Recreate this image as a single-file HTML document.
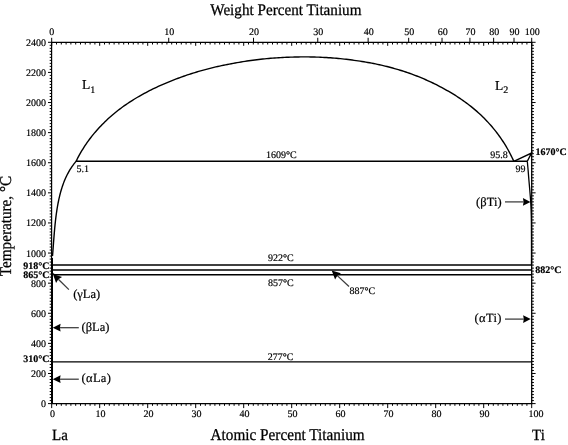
<!DOCTYPE html>
<html><head><meta charset="utf-8"><title>La-Ti Phase Diagram</title>
<style>html,body{margin:0;padding:0;background:#fff;}body{width:568px;height:445px;overflow:hidden;}svg{display:block;text-rendering:geometricPrecision;}</style>
</head><body><svg width="568" height="445" viewBox="0 0 568 445"><path d="M51.6,403.6V42.3" stroke="#000" stroke-width="1.2" fill="none"/><path d="M52.5,403.6V258" stroke="#000" stroke-width="1" fill="none"/><path d="M531.7,403.6V42.3" stroke="#000" stroke-width="1.3" fill="none"/><path d="M51.2,403.6H532.3M51.2,42.3H532.3" stroke="#000" stroke-width="1.25" fill="none"/><path d="M48,403.6H51.6M531.7,403.6H535.6M49.7,400.59H51.6M531.7,400.59H533.9M49.7,397.58H51.6M531.7,397.58H533.9M49.7,394.57H51.6M531.7,394.57H533.9M49.7,391.56H51.6M531.7,391.56H533.9M49.7,388.55H51.6M531.7,388.55H533.9M49.7,385.54H51.6M531.7,385.54H533.9M49.7,382.52H51.6M531.7,382.52H533.9M49.7,379.51H51.6M531.7,379.51H533.9M49.7,376.5H51.6M531.7,376.5H533.9M48,373.49H51.6M531.7,373.49H535.6M49.7,370.48H51.6M531.7,370.48H533.9M49.7,367.47H51.6M531.7,367.47H533.9M49.7,364.46H51.6M531.7,364.46H533.9M49.7,361.45H51.6M531.7,361.45H533.9M49.7,358.44H51.6M531.7,358.44H533.9M49.7,355.43H51.6M531.7,355.43H533.9M49.7,352.42H51.6M531.7,352.42H533.9M49.7,349.41H51.6M531.7,349.41H533.9M49.7,346.39H51.6M531.7,346.39H533.9M48,343.38H51.6M531.7,343.38H535.6M49.7,340.37H51.6M531.7,340.37H533.9M49.7,337.36H51.6M531.7,337.36H533.9M49.7,334.35H51.6M531.7,334.35H533.9M49.7,331.34H51.6M531.7,331.34H533.9M49.7,328.33H51.6M531.7,328.33H533.9M49.7,325.32H51.6M531.7,325.32H533.9M49.7,322.31H51.6M531.7,322.31H533.9M49.7,319.3H51.6M531.7,319.3H533.9M49.7,316.29H51.6M531.7,316.29H533.9M48,313.28H51.6M531.7,313.28H535.6M49.7,310.26H51.6M531.7,310.26H533.9M49.7,307.25H51.6M531.7,307.25H533.9M49.7,304.24H51.6M531.7,304.24H533.9M49.7,301.23H51.6M531.7,301.23H533.9M49.7,298.22H51.6M531.7,298.22H533.9M49.7,295.21H51.6M531.7,295.21H533.9M49.7,292.2H51.6M531.7,292.2H533.9M49.7,289.19H51.6M531.7,289.19H533.9M49.7,286.18H51.6M531.7,286.18H533.9M48,283.17H51.6M531.7,283.17H535.6M49.7,280.16H51.6M531.7,280.16H533.9M49.7,277.15H51.6M531.7,277.15H533.9M49.7,274.13H51.6M531.7,274.13H533.9M49.7,271.12H51.6M531.7,271.12H533.9M49.7,268.11H51.6M531.7,268.11H533.9M49.7,265.1H51.6M531.7,265.1H533.9M49.7,262.09H51.6M531.7,262.09H533.9M49.7,259.08H51.6M531.7,259.08H533.9M49.7,256.07H51.6M531.7,256.07H533.9M48,253.06H51.6M531.7,253.06H535.6M49.7,250.05H51.6M531.7,250.05H533.9M49.7,247.04H51.6M531.7,247.04H533.9M49.7,244.03H51.6M531.7,244.03H533.9M49.7,241.02H51.6M531.7,241.02H533.9M49.7,238H51.6M531.7,238H533.9M49.7,234.99H51.6M531.7,234.99H533.9M49.7,231.98H51.6M531.7,231.98H533.9M49.7,228.97H51.6M531.7,228.97H533.9M49.7,225.96H51.6M531.7,225.96H533.9M48,222.95H51.6M531.7,222.95H535.6M49.7,219.94H51.6M531.7,219.94H533.9M49.7,216.93H51.6M531.7,216.93H533.9M49.7,213.92H51.6M531.7,213.92H533.9M49.7,210.91H51.6M531.7,210.91H533.9M49.7,207.9H51.6M531.7,207.9H533.9M49.7,204.89H51.6M531.7,204.89H533.9M49.7,201.87H51.6M531.7,201.87H533.9M49.7,198.86H51.6M531.7,198.86H533.9M49.7,195.85H51.6M531.7,195.85H533.9M48,192.84H51.6M531.7,192.84H535.6M49.7,189.83H51.6M531.7,189.83H533.9M49.7,186.82H51.6M531.7,186.82H533.9M49.7,183.81H51.6M531.7,183.81H533.9M49.7,180.8H51.6M531.7,180.8H533.9M49.7,177.79H51.6M531.7,177.79H533.9M49.7,174.78H51.6M531.7,174.78H533.9M49.7,171.77H51.6M531.7,171.77H533.9M49.7,168.76H51.6M531.7,168.76H533.9M49.7,165.74H51.6M531.7,165.74H533.9M48,162.73H51.6M531.7,162.73H535.6M49.7,159.72H51.6M531.7,159.72H533.9M49.7,156.71H51.6M531.7,156.71H533.9M49.7,153.7H51.6M531.7,153.7H533.9M49.7,150.69H51.6M531.7,150.69H533.9M49.7,147.68H51.6M531.7,147.68H533.9M49.7,144.67H51.6M531.7,144.67H533.9M49.7,141.66H51.6M531.7,141.66H533.9M49.7,138.65H51.6M531.7,138.65H533.9M49.7,135.64H51.6M531.7,135.64H533.9M48,132.62H51.6M531.7,132.62H535.6M49.7,129.61H51.6M531.7,129.61H533.9M49.7,126.6H51.6M531.7,126.6H533.9M49.7,123.59H51.6M531.7,123.59H533.9M49.7,120.58H51.6M531.7,120.58H533.9M49.7,117.57H51.6M531.7,117.57H533.9M49.7,114.56H51.6M531.7,114.56H533.9M49.7,111.55H51.6M531.7,111.55H533.9M49.7,108.54H51.6M531.7,108.54H533.9M49.7,105.53H51.6M531.7,105.53H533.9M48,102.52H51.6M531.7,102.52H535.6M49.7,99.51H51.6M531.7,99.51H533.9M49.7,96.5H51.6M531.7,96.5H533.9M49.7,93.48H51.6M531.7,93.48H533.9M49.7,90.47H51.6M531.7,90.47H533.9M49.7,87.46H51.6M531.7,87.46H533.9M49.7,84.45H51.6M531.7,84.45H533.9M49.7,81.44H51.6M531.7,81.44H533.9M49.7,78.43H51.6M531.7,78.43H533.9M49.7,75.42H51.6M531.7,75.42H533.9M48,72.41H51.6M531.7,72.41H535.6M49.7,69.4H51.6M531.7,69.4H533.9M49.7,66.39H51.6M531.7,66.39H533.9M49.7,63.38H51.6M531.7,63.38H533.9M49.7,60.37H51.6M531.7,60.37H533.9M49.7,57.35H51.6M531.7,57.35H533.9M49.7,54.34H51.6M531.7,54.34H533.9M49.7,51.33H51.6M531.7,51.33H533.9M49.7,48.32H51.6M531.7,48.32H533.9M49.7,45.31H51.6M531.7,45.31H533.9M48,42.3H51.6M531.7,42.3H535.6M51.7,403.6V408.1M51.7,42.3V45.8M56.5,403.6V405.8M56.5,42.3V44.5M61.3,403.6V405.8M61.3,42.3V44.5M66.1,403.6V405.8M66.1,42.3V44.5M70.9,403.6V405.8M70.9,42.3V44.5M75.7,403.6V405.8M75.7,42.3V44.5M80.5,403.6V405.8M80.5,42.3V44.5M85.3,403.6V405.8M85.3,42.3V44.5M90.1,403.6V405.8M90.1,42.3V44.5M94.9,403.6V405.8M94.9,42.3V44.5M99.7,403.6V408.1M99.7,42.3V45.8M104.5,403.6V405.8M104.5,42.3V44.5M109.3,403.6V405.8M109.3,42.3V44.5M114.1,403.6V405.8M114.1,42.3V44.5M118.9,403.6V405.8M118.9,42.3V44.5M123.7,403.6V405.8M123.7,42.3V44.5M128.5,403.6V405.8M128.5,42.3V44.5M133.3,403.6V405.8M133.3,42.3V44.5M138.1,403.6V405.8M138.1,42.3V44.5M142.9,403.6V405.8M142.9,42.3V44.5M147.7,403.6V408.1M147.7,42.3V45.8M152.5,403.6V405.8M152.5,42.3V44.5M157.3,403.6V405.8M157.3,42.3V44.5M162.1,403.6V405.8M162.1,42.3V44.5M166.9,403.6V405.8M166.9,42.3V44.5M171.7,403.6V405.8M171.7,42.3V44.5M176.5,403.6V405.8M176.5,42.3V44.5M181.3,403.6V405.8M181.3,42.3V44.5M186.1,403.6V405.8M186.1,42.3V44.5M190.9,403.6V405.8M190.9,42.3V44.5M195.7,403.6V408.1M195.7,42.3V45.8M200.5,403.6V405.8M200.5,42.3V44.5M205.3,403.6V405.8M205.3,42.3V44.5M210.1,403.6V405.8M210.1,42.3V44.5M214.9,403.6V405.8M214.9,42.3V44.5M219.7,403.6V405.8M219.7,42.3V44.5M224.5,403.6V405.8M224.5,42.3V44.5M229.3,403.6V405.8M229.3,42.3V44.5M234.1,403.6V405.8M234.1,42.3V44.5M238.9,403.6V405.8M238.9,42.3V44.5M243.7,403.6V408.1M243.7,42.3V45.8M248.5,403.6V405.8M248.5,42.3V44.5M253.3,403.6V405.8M253.3,42.3V44.5M258.1,403.6V405.8M258.1,42.3V44.5M262.9,403.6V405.8M262.9,42.3V44.5M267.7,403.6V405.8M267.7,42.3V44.5M272.5,403.6V405.8M272.5,42.3V44.5M277.3,403.6V405.8M277.3,42.3V44.5M282.1,403.6V405.8M282.1,42.3V44.5M286.9,403.6V405.8M286.9,42.3V44.5M291.7,403.6V408.1M291.7,42.3V45.8M296.5,403.6V405.8M296.5,42.3V44.5M301.3,403.6V405.8M301.3,42.3V44.5M306.1,403.6V405.8M306.1,42.3V44.5M310.9,403.6V405.8M310.9,42.3V44.5M315.7,403.6V405.8M315.7,42.3V44.5M320.5,403.6V405.8M320.5,42.3V44.5M325.3,403.6V405.8M325.3,42.3V44.5M330.1,403.6V405.8M330.1,42.3V44.5M334.9,403.6V405.8M334.9,42.3V44.5M339.7,403.6V408.1M339.7,42.3V45.8M344.5,403.6V405.8M344.5,42.3V44.5M349.3,403.6V405.8M349.3,42.3V44.5M354.1,403.6V405.8M354.1,42.3V44.5M358.9,403.6V405.8M358.9,42.3V44.5M363.7,403.6V405.8M363.7,42.3V44.5M368.5,403.6V405.8M368.5,42.3V44.5M373.3,403.6V405.8M373.3,42.3V44.5M378.1,403.6V405.8M378.1,42.3V44.5M382.9,403.6V405.8M382.9,42.3V44.5M387.7,403.6V408.1M387.7,42.3V45.8M392.5,403.6V405.8M392.5,42.3V44.5M397.3,403.6V405.8M397.3,42.3V44.5M402.1,403.6V405.8M402.1,42.3V44.5M406.9,403.6V405.8M406.9,42.3V44.5M411.7,403.6V405.8M411.7,42.3V44.5M416.5,403.6V405.8M416.5,42.3V44.5M421.3,403.6V405.8M421.3,42.3V44.5M426.1,403.6V405.8M426.1,42.3V44.5M430.9,403.6V405.8M430.9,42.3V44.5M435.7,403.6V408.1M435.7,42.3V45.8M440.5,403.6V405.8M440.5,42.3V44.5M445.3,403.6V405.8M445.3,42.3V44.5M450.1,403.6V405.8M450.1,42.3V44.5M454.9,403.6V405.8M454.9,42.3V44.5M459.7,403.6V405.8M459.7,42.3V44.5M464.5,403.6V405.8M464.5,42.3V44.5M469.3,403.6V405.8M469.3,42.3V44.5M474.1,403.6V405.8M474.1,42.3V44.5M478.9,403.6V405.8M478.9,42.3V44.5M483.7,403.6V408.1M483.7,42.3V45.8M488.5,403.6V405.8M488.5,42.3V44.5M493.3,403.6V405.8M493.3,42.3V44.5M498.1,403.6V405.8M498.1,42.3V44.5M502.9,403.6V405.8M502.9,42.3V44.5M507.7,403.6V405.8M507.7,42.3V44.5M512.5,403.6V405.8M512.5,42.3V44.5M517.3,403.6V405.8M517.3,42.3V44.5M522.1,403.6V405.8M522.1,42.3V44.5M526.9,403.6V405.8M526.9,42.3V44.5M531.7,403.6V408.1M531.7,42.3V45.8M51.7,42.3V37.8M168.73,42.3V37.8M253.52,42.3V37.8M317.76,42.3V37.8M368.13,42.3V37.8M408.68,42.3V37.8M442.03,42.3V37.8M469.93,42.3V37.8M493.63,42.3V37.8M514,42.3V37.8M531.7,42.3V37.8" stroke="#000" stroke-width="1" fill="none"/><g font-family='"Liberation Serif", "Times New Roman", serif' font-size="10" fill="#000" stroke="#000" stroke-width="0.18"><text x="46.1" y="407.1" text-anchor="end">0</text><text x="46.1" y="376.99" text-anchor="end">200</text><text x="46.1" y="346.88" text-anchor="end">400</text><text x="46.1" y="316.78" text-anchor="end">600</text><text x="46.1" y="286.67" text-anchor="end">800</text><text x="46.1" y="256.56" text-anchor="end">1000</text><text x="46.1" y="226.45" text-anchor="end">1200</text><text x="46.1" y="196.34" text-anchor="end">1400</text><text x="46.1" y="166.23" text-anchor="end">1600</text><text x="46.1" y="136.12" text-anchor="end">1800</text><text x="46.1" y="106.02" text-anchor="end">2000</text><text x="46.1" y="75.91" text-anchor="end">2200</text><text x="46.1" y="45.8" text-anchor="end">2400</text><text x="52.5" y="417.3" text-anchor="middle">0</text><text x="100.5" y="417.3" text-anchor="middle">10</text><text x="148.5" y="417.3" text-anchor="middle">20</text><text x="196.5" y="417.3" text-anchor="middle">30</text><text x="244.5" y="417.3" text-anchor="middle">40</text><text x="292.5" y="417.3" text-anchor="middle">50</text><text x="340.5" y="417.3" text-anchor="middle">60</text><text x="388.5" y="417.3" text-anchor="middle">70</text><text x="436.5" y="417.3" text-anchor="middle">80</text><text x="484.5" y="417.3" text-anchor="middle">90</text><text x="535.9" y="417.3" text-anchor="middle">100</text><text x="51.7" y="35.4" text-anchor="middle">0</text><text x="169.33" y="35.4" text-anchor="middle">10</text><text x="254.12" y="35.4" text-anchor="middle">20</text><text x="318.36" y="35.4" text-anchor="middle">30</text><text x="368.73" y="35.4" text-anchor="middle">40</text><text x="409.28" y="35.4" text-anchor="middle">50</text><text x="442.63" y="35.4" text-anchor="middle">60</text><text x="470.53" y="35.4" text-anchor="middle">70</text><text x="494.23" y="35.4" text-anchor="middle">80</text><text x="514.6" y="35.4" text-anchor="middle">90</text><text x="532.3" y="35.4" text-anchor="middle">100</text></g><path d="M52.5,256 52.63,254.36 52.77,252.72 52.9,251.08 53.03,249.42 53.15,247.76 53.28,246.1 53.4,244.43 53.53,242.75 53.66,241.07 53.78,239.39 53.91,237.71 54.05,236.02 54.18,234.33 54.32,232.64 54.47,230.94 54.62,229.24 54.78,227.55 54.94,225.85 55.11,224.15 55.29,222.46 55.47,220.76 55.67,219.06 55.87,217.37 56.09,215.68 56.31,213.99 56.55,212.3 56.8,210.62 57.07,208.93 57.34,207.26 57.63,205.59 57.94,203.92 58.26,202.25 58.6,200.6 58.95,198.94 59.32,197.3 59.71,195.66 60.12,194.03 60.55,192.41 61,190.79 61.47,189.19 61.97,187.6 62.49,186.01 63.04,184.44 63.62,182.88 64.22,181.33 64.85,179.8 65.51,178.27 66.2,176.77 66.92,175.27 67.67,173.8 68.46,172.34 69.29,170.89 70.14,169.47 71.04,168.06 71.97,166.67 72.94,165.29 73.95,163.94 75,162.61 76.1,161.3 L76.09,161.3 76.99,159.49 77.9,157.69 78.85,155.92 79.81,154.16 80.8,152.43 81.81,150.72 82.85,149.02 83.9,147.35 84.98,145.69 86.08,144.06 87.2,142.44 88.34,140.85 89.51,139.27 90.69,137.72 91.89,136.18 93.12,134.66 94.36,133.16 95.62,131.68 96.9,130.21 98.2,128.77 99.52,127.34 100.85,125.93 102.21,124.53 103.58,123.15 104.96,121.78 106.37,120.44 107.79,119.11 109.22,117.8 110.68,116.51 112.14,115.23 113.63,113.97 115.12,112.73 116.64,111.5 118.16,110.29 119.7,109.1 121.26,107.94 122.82,106.8 124.4,105.68 126,104.57 127.6,103.48 129.22,102.4 130.85,101.34 132.49,100.3 134.14,99.27 135.8,98.26 137.47,97.27 139.15,96.29 140.85,95.32 142.55,94.37 144.26,93.44 145.98,92.52 147.71,91.62 149.44,90.73 151.19,89.85 152.94,88.99 154.7,88.14 156.47,87.3 158.24,86.48 160.02,85.68 161.81,84.89 163.6,84.11 165.4,83.34 167.2,82.59 169.01,81.86 170.82,81.12 172.64,80.38 174.47,79.66 176.3,78.95 178.13,78.25 179.97,77.57 181.82,76.9 183.67,76.24 185.52,75.59 187.38,74.96 189.25,74.34 191.11,73.74 192.99,73.14 194.87,72.56 196.75,71.99 198.63,71.44 200.52,70.89 202.42,70.36 204.32,69.84 206.22,69.33 208.12,68.83 210.03,68.34 211.95,67.86 213.86,67.39 215.78,66.94 217.71,66.5 219.63,66.07 221.57,65.65 223.5,65.24 225.44,64.84 227.38,64.46 229.32,64.08 231.26,63.72 233.21,63.37 235.16,63.03 237.12,62.67 239.07,62.33 241.03,62 242.99,61.67 244.96,61.36 246.92,61.06 248.89,60.77 250.86,60.49 252.84,60.22 254.81,59.96 256.79,59.71 258.76,59.48 260.74,59.25 262.72,59.04 264.71,58.85 266.69,58.66 268.68,58.48 270.66,58.32 272.65,58.16 274.64,58.01 276.63,57.87 278.62,57.74 280.61,57.62 282.61,57.51 284.6,57.41 286.6,57.32 288.59,57.23 290.59,57.16 292.58,57.1 294.58,57.04 296.58,56.99 298.57,56.95 300.57,56.92 302.57,56.91 304.56,56.9 306.56,56.89 308.55,56.9 310.55,56.93 312.55,56.97 314.54,57.02 316.53,57.09 318.53,57.16 320.52,57.25 322.51,57.34 324.5,57.45 326.49,57.56 328.47,57.69 330.46,57.82 332.44,57.97 334.43,58.13 336.41,58.29 338.39,58.47 340.36,58.67 342.34,58.87 344.31,59.08 346.28,59.3 348.25,59.54 350.22,59.79 352.18,60.05 354.14,60.32 356.1,60.59 358.06,60.87 360.01,61.16 361.96,61.46 363.91,61.78 365.85,62.11 367.79,62.45 369.73,62.8 371.66,63.16 373.59,63.54 375.52,63.93 377.44,64.34 379.36,64.75 381.27,65.18 383.18,65.62 385.09,66.08 386.99,66.55 388.89,67.03 390.78,67.53 392.67,68.04 394.55,68.56 396.43,69.1 398.3,69.65 400.17,70.21 402.04,70.79 403.9,71.38 405.75,71.99 407.6,72.62 409.44,73.27 411.28,73.93 413.11,74.6 414.94,75.29 416.76,75.99 418.57,76.71 420.38,77.45 422.18,78.19 423.98,78.96 425.76,79.74 427.55,80.53 429.32,81.34 431.09,82.16 432.86,83 434.61,83.86 436.36,84.73 438.1,85.62 439.84,86.52 441.56,87.44 443.28,88.38 444.99,89.33 446.69,90.27 448.37,91.23 450.06,92.2 451.73,93.19 453.39,94.2 455.04,95.22 456.67,96.26 458.3,97.32 459.92,98.39 461.52,99.48 463.12,100.59 464.7,101.71 466.27,102.86 467.82,104.03 469.37,105.21 470.9,106.42 472.41,107.64 473.91,108.87 475.4,110.12 476.87,111.4 478.33,112.68 479.78,113.99 481.2,115.34 482.62,116.71 484.01,118.11 485.39,119.51 486.76,120.94 488.11,122.38 489.44,123.85 490.75,125.32 492.04,126.82 493.32,128.33 494.58,129.86 495.82,131.41 497.04,132.98 498.25,134.57 499.43,136.22 500.59,137.88 501.74,139.56 502.86,141.26 503.96,142.98 505.05,144.71 506.11,146.46 507.15,148.23 508.17,150.02 509.16,151.86 510.14,153.71 511.09,155.58 512.02,157.46 512.92,159.37 513.8,161.29" fill="none" stroke="#000" stroke-width="1.4"/><path d="M76.1,161.3H527.3" stroke="#000" stroke-width="1.4" fill="none"/><path d="M513.8,161.3L531.5,153.1L527.3,161.3" stroke="#000" stroke-width="1.4" fill="none" stroke-linejoin="miter"/><path d="M527.3,161.3 C527.43,162.75 527.83,166.88 528.1,170 C528.37,173.12 528.62,176.62 528.9,180 C529.18,183.38 529.52,186.9 529.8,190.3 C530.08,193.7 530.38,197.12 530.6,200.4 C530.82,203.68 530.97,206.4 531.1,210 C531.23,213.6 531.33,217 531.4,222 C531.47,227 531.48,232.83 531.5,240 C531.52,247.17 531.5,260.83 531.5,265" stroke="#000" stroke-width="1.3" fill="none"/><path d="M51.7,265.0H531.7" stroke="#000" stroke-width="1.4" fill="none"/><path d="M51.7,270.0H531.7" stroke="#000" stroke-width="1.4" fill="none"/><path d="M52.3,272.8 Q53.2,274.7 55,274.8 H531.7" stroke="#000" stroke-width="1.4" fill="none"/><path d="M51.7,361.9H531.7" stroke="#000" stroke-width="1.4" fill="none"/><path d="M68.9,289.6L58.34,279.31" stroke="#3a3a3a" stroke-width="1.25" fill="none"/><path d="M52.9,274L62.06,276.92L58.34,279.31L56.06,283.08Z" fill="#000"/><path d="M349,286.5L337.28,275.66" stroke="#3a3a3a" stroke-width="1.25" fill="none"/><path d="M331.7,270.5L340.93,273.18L337.28,275.66L335.09,279.5Z" fill="#000"/><path d="M78.8,327.7L59.9,327.7" stroke="#3a3a3a" stroke-width="1.25" fill="none"/><path d="M52.7,327.7L60.6,323.8L59.9,327.7L60.6,331.6Z" fill="#000"/><path d="M78.8,379.2L59.9,379.2" stroke="#3a3a3a" stroke-width="1.25" fill="none"/><path d="M52.7,379.2L60.6,375.3L59.9,379.2L60.6,383.1Z" fill="#000"/><path d="M505,201.9L523.6,201.9" stroke="#3a3a3a" stroke-width="1.25" fill="none"/><path d="M530.5,201.9L522.9,205.8L523.6,201.9L522.9,198Z" fill="#000"/><path d="M505,319.1L523.8,319.1" stroke="#3a3a3a" stroke-width="1.25" fill="none"/><path d="M530.7,319.1L523.1,323L523.8,319.1L523.1,315.2Z" fill="#000"/><g font-family='"Liberation Serif", "Times New Roman", serif' fill="#000"><text transform="translate(210.3,14.7) scale(1,1.05)" font-size="15.3" stroke="#000" stroke-width="0.25" textLength="151.2" lengthAdjust="spacingAndGlyphs">Weight Percent Titanium</text><text transform="translate(210.6,440.4) scale(1,1.08)" font-size="15.3" stroke="#000" stroke-width="0.25" textLength="154" lengthAdjust="spacingAndGlyphs">Atomic Percent Titanium</text><text transform="translate(10.5,226) rotate(-90) scale(1,1.08)" font-size="15.2" text-anchor="middle" stroke="#000" stroke-width="0.25">Temperature, °C</text><text transform="translate(52,440.4) scale(1,1.04)" font-size="15" stroke="#000" stroke-width="0.25">La</text><text transform="translate(532,440.4) scale(1,1.04)" font-size="15" stroke="#000" stroke-width="0.25">Ti</text><text x="82" y="89" font-size="13.6" stroke="#000" stroke-width="0.2">L<tspan font-size="10" dy="3.9">1</tspan></text><text x="495" y="89.7" font-size="13.6" stroke="#000" stroke-width="0.2">L<tspan font-size="10" dy="3.2">2</tspan></text><text x="76.4" y="172" font-size="10" stroke="#000" stroke-width="0.18">5.1</text><text x="490.3" y="158" font-size="10" stroke="#000" stroke-width="0.18">95.8</text><text x="515.6" y="171.9" font-size="10" stroke="#000" stroke-width="0.18">99</text><text x="266" y="157.9" font-size="10" stroke="#000" stroke-width="0.18">1609°C</text><text x="268" y="260.9" font-size="10" stroke="#000" stroke-width="0.18">922°C</text><text x="268" y="285.8" font-size="10" stroke="#000" stroke-width="0.18">857°C</text><text x="349.4" y="293.5" font-size="10" stroke="#000" stroke-width="0.18">887°C</text><text x="267.7" y="359.5" font-size="10" stroke="#000" stroke-width="0.18">277°C</text><text x="49.5" y="268.7" font-size="10" stroke="#000" stroke-width="0.18" font-weight="bold" text-anchor="end">918°C</text><text x="49.5" y="278.3" font-size="10" stroke="#000" stroke-width="0.18" font-weight="bold" text-anchor="end">865°C</text><text x="49.5" y="362" font-size="10" stroke="#000" stroke-width="0.18" font-weight="bold" text-anchor="end">310°C</text><text x="535.6" y="155" font-size="10" stroke="#000" stroke-width="0.18" font-weight="bold">1670°C</text><text x="535.2" y="273.2" font-size="10" stroke="#000" stroke-width="0.18" font-weight="bold">882°C</text><text x="73.2" y="297.8" font-size="12.5" textLength="27" lengthAdjust="spacing" stroke="#000" stroke-width="0.2">(γLa)</text><text x="81.6" y="330.6" font-size="12.5" stroke="#000" stroke-width="0.2">(βLa)</text><text x="81.6" y="382.4" font-size="12.5" textLength="29.3" lengthAdjust="spacing" stroke="#000" stroke-width="0.2">(αLa)</text><text x="475.9" y="205.6" font-size="12.5" textLength="25.8" lengthAdjust="spacing" stroke="#000" stroke-width="0.2">(βTi)</text><text x="474.5" y="322.2" font-size="12.5" textLength="27" lengthAdjust="spacing" stroke="#000" stroke-width="0.2">(αTi)</text></g></svg></body></html>
